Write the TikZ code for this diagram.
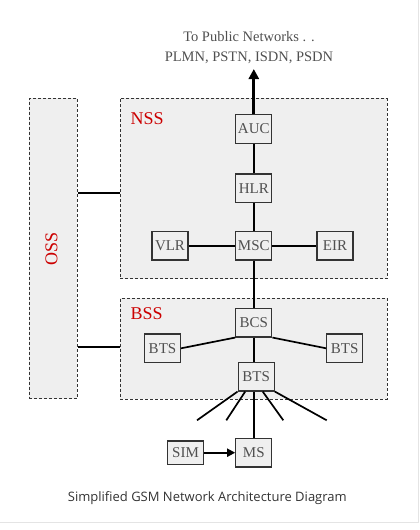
\documentclass[tikz,border=0pt]{standalone}
\usepackage{fontspec}
\setmainfont{Liberation Serif}
\newfontfamily\capfont{Open Sans}
\usetikzlibrary{arrows.meta}
\definecolor{boxgray}{HTML}{EFEFEF}
\definecolor{edgegray}{HTML}{333333}
\definecolor{txtgray}{HTML}{505050}
\definecolor{lblred}{HTML}{CC0000}
\definecolor{framegray}{HTML}{E4E4E4}

\begin{document}
\begin{tikzpicture}[x=1pt,y=-1pt,
  unit/.style={draw=edgegray,fill=boxgray,line width=1.2pt,minimum width=36pt,
    minimum height=28.5pt,inner sep=0pt,text=txtgray,font=\fontsize{15}{17}\selectfont},
  region/.style={draw=edgegray,fill=boxgray,dash pattern=on 3pt off 2pt,line width=1pt,
    inner sep=0pt},
  tag/.style={text=lblred,font=\fontsize{18}{20}\selectfont,inner sep=0pt},
  link/.style={line width=1.7pt}]
\useasboundingbox (0,0) rectangle (420,530);
\draw[framegray,line width=1pt] (418,0) -- (418,522) -- (0,522);

% subsystems
\node[region,minimum width=48pt,minimum height=300.7pt] (oss) at (53.3,248.6) {};
\node[region,minimum width=266.7pt,minimum height=180.7pt] (nss) at (253.7,188.6) {};
\node[region,minimum width=266.7pt,minimum height=101pt] (bss) at (253.7,348.5) {};
\node[tag,rotate=90] (osstag) at (51.5,249) {OSS};
\node[tag,anchor=west] (nsstag) at (130.5,119) {NSS};
\node[tag,anchor=west] (bsstag) at (130.5,313.5) {BSS};

% title
\node[text=txtgray,align=center,font=\fontsize{14.5}{20}\selectfont] (pub) at (249,48)
  {To Public Networks . .\\PLMN, PSTN, ISDN, PSDN};
\coordinate (pubtip) at (253.8,69);

% units
\node[unit] (auc) at (253.8,129) {AUC};
\node[unit] (hlr) at (253.8,188.3) {HLR};
\node[unit] (msc) at (253.8,245.7) {MSC};
\node[unit] (vlr) at (170,245.7) {VLR};
\node[unit] (eir) at (335,245.7) {EIR};
\node[unit] (bcs) at (253.8,322.7) {BCS};
\node[unit] (btsl) at (162.5,348.3) {BTS};
\node[unit] (btsr) at (344.7,348.3) {BTS};
\node[unit] (btsc) at (256.2,376.7) {BTS};
\node[unit] (ms) at (253.8,452.7) {MS};
\node[unit,minimum height=23.3pt] (sim) at (185.5,452.7) {SIM};

\coordinate (ossnss) at (100,193.3);
\coordinate (ossbss) at (100,347);
\coordinate (ant1) at (197,420.3);
\coordinate (ant2) at (226.3,420.3);
\coordinate (ant3) at (283.3,420.3);
\coordinate (ant4) at (326.7,420.3);

% links
\draw[line width=3pt,-{Triangle[length=10pt,width=10pt]}] (auc.north) -- (pubtip);
\draw[link] (auc) -- (hlr) -- (msc);
\draw[link] (vlr) -- (msc) -- (eir);
\draw[link] (msc) -- (bcs);
\draw[link] (oss.east |- ossnss) -- (nss.west |- ossnss);
\draw[link] (oss.east |- ossbss) -- (bss.west |- ossbss);
\draw[link] (bcs.south west) -- (btsl.east);
\draw[link] (bcs.south east) -- (btsr.west);
\draw[link] (bcs.south) -- (bcs.south |- btsc.north);
\draw[link] (ms.north |- btsc.south) -- (ms.north);
\draw[link] (btsc.south west) -- (ant1);
\draw[link] ([xshift=-11pt]btsc.south) -- (ant2);
\draw[link] ([xshift=6.5pt]btsc.south) -- (ant3);
\draw[link] (btsc.south east) -- (ant4);
\draw[link,-{Triangle[length=8pt,width=8pt]}] (sim) -- (ms);

% caption
\node[text=edgegray,font=\capfont\fontsize{13}{15}\selectfont] (cap) at (207.3,497.7)
  {Simplified GSM Network Architecture Diagram};
\end{tikzpicture}
\end{document}
